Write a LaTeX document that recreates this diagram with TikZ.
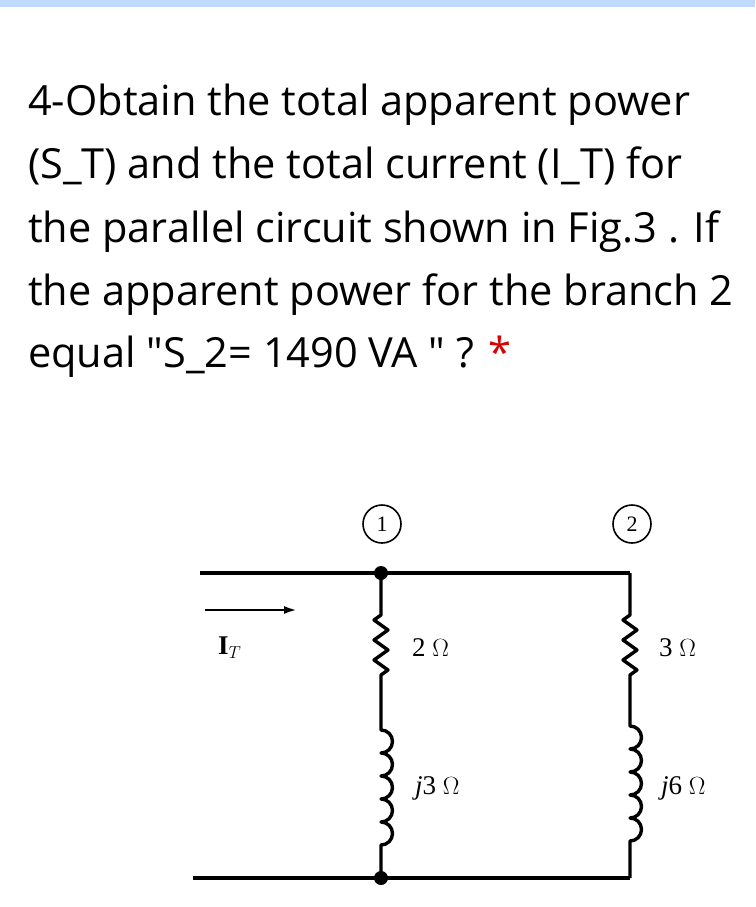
\documentclass[tikz,border=0pt]{standalone}
\usepackage{fontspec}
\usetikzlibrary{arrows.meta}
\setmainfont{Liberation Serif}
\newfontfamily\qfont{Open Sans}
\begin{document}
\begin{tikzpicture}[x=1pt,y=1pt,
  wire/.style={line width=4pt},
  comp/.style={line width=3.4pt,line join=round},
  lab/.style={font=\fontsize{27}{30}\selectfont,anchor=west,inner sep=0pt},
  qline/.style={font=\qfont\fontsize{41.5}{44}\selectfont,anchor=base west,inner sep=0pt},
  nodecirc/.style={circle,draw,line width=1.6pt,minimum size=38pt,inner sep=0pt,font=\fontsize{22}{24}\selectfont}]
\useasboundingbox (0,0) rectangle (755,-907);
\fill[white] (0,0) rectangle (755,-907);
\fill[blue!60!cyan!25] (0,0) rectangle (755,-7);
\node[qline] (l1) at (28,-115) {4-Obtain the total apparent power};
\node[qline] (l2) at (28,-178) {(S\_T) and the total current (I\_T) for};
\node[qline] (l3) at (28,-242) {the parallel circuit shown in Fig.3 . If};
\node[qline] (l4) at (28,-305) {the apparent power for the branch 2};
\node[qline] (l5) at (28,-367) {equal "S\_2= 1490 VA " ? \textcolor{red!85!black}{*}};
% nodes
\node[nodecirc] (n1) at (382,-524) {1};
\node[nodecirc] (n2) at (632,-524) {2};
\coordinate (tl) at (200,-573);
\coordinate (t1) at (381,-573);
\coordinate (tr) at (630,-573);
\coordinate (bl) at (193,-878);
\coordinate (b1) at (381,-878);
\coordinate (br) at (630,-878);
\draw[wire] (tl) -- (t1) -- (tr);
\draw[wire] (bl) -- (b1) -- (br);
\fill (t1) circle (7);
\fill (b1) circle (7);
% left branch
\draw[comp] (t1) -- (381,-615) -- ++(-7,-5) -- ++(14,-10) -- ++(-14,-10) -- ++(14,-10) -- ++(-14,-10) -- ++(14,-10) -- ++(-7,-5) -- (381,-730)
  arc[start angle=90,end angle=-90,radius=11.5] arc[start angle=90,end angle=-90,radius=11.5]
  arc[start angle=90,end angle=-90,radius=11.5] arc[start angle=90,end angle=-90,radius=11.5]
  arc[start angle=90,end angle=-90,radius=11.5] -- (b1);
% right branch
\draw[comp] (tr) -- (630,-615) -- ++(-7,-5) -- ++(14,-10) -- ++(-14,-10) -- ++(14,-10) -- ++(-14,-10) -- ++(14,-10) -- ++(-7,-5) -- (630,-726)
  arc[start angle=90,end angle=-90,radius=11.5] arc[start angle=90,end angle=-90,radius=11.5]
  arc[start angle=90,end angle=-90,radius=11.5] arc[start angle=90,end angle=-90,radius=11.5]
  arc[start angle=90,end angle=-90,radius=11.5] -- (br);
% arrow and labels
\coordinate (a0) at (205,-610);
\coordinate (a1) at (297,-610);
\draw[line width=2.4pt,-{Latex[length=13pt,width=8pt]}] (a0) -- (a1);
\node[lab] (it) at (218,-648) {$\mathbf{I}_{T}$};
\node[lab] (r1) at (412,-648) {2 $\Omega$};
\node[lab] (r2) at (659,-648) {3 $\Omega$};
\node[lab] (x1) at (415,-788) {\textit{j}3 $\Omega$};
\node[lab] (x2) at (661,-788) {\textit{j}6 $\Omega$};
\end{tikzpicture}
\end{document}
